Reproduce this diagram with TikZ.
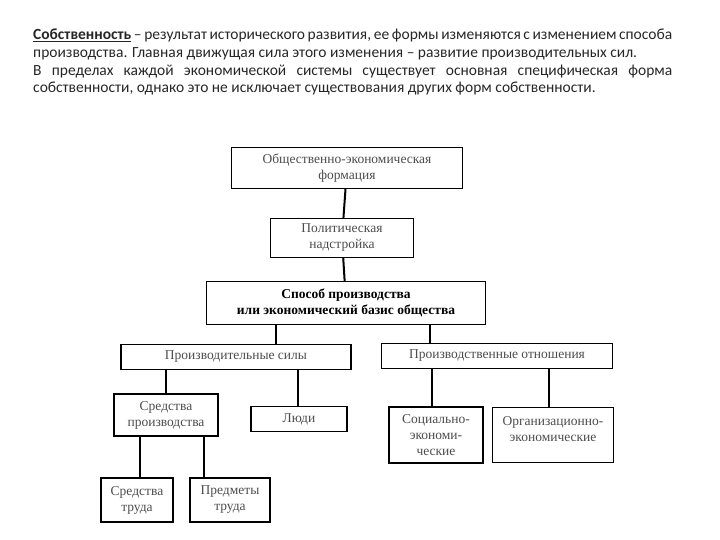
\documentclass[tikz,border=0pt]{standalone}
\usepackage{fontspec}
\setmainfont{Liberation Serif}
\newfontfamily\introfont{Carlito}
\usetikzlibrary{positioning}
\tikzset{
  blk/.style={rectangle, draw=black, line width=1.1pt, align=center, text=black!70,
    font=\fontsize{13.5}{16}\selectfont, inner sep=0pt},
  link/.style={draw, line width=2pt}
}
\begin{document}
\begin{tikzpicture}[x=1pt,y=-1pt]
  \useasboundingbox (0,0) rectangle (720,540);
  % text above
  \node [anchor=north west, inner sep=0pt, text width=639pt, align=justify,
    font=\introfont\fontsize{15.5}{17.6}\selectfont, text=black!85] (intro) at (33,29)
    {\underline{\textbf{Собственность}} – результат исторического развития, ее формы изменяются с изменением способа производства. Главная движущая сила этого изменения – развитие производительных сил.\par
     В пределах каждой экономической системы существует основная специфическая форма собственности, однако это не исключает существования других форм собственности.};
  % Place nodes
  \node [blk, minimum width=231pt, minimum height=41pt] (formation) at (347,168) {Общественно-экономическая\\формация};
  \node [blk, minimum width=143pt, minimum height=39pt] (politics) at (342,238) {Политическая\\надстройка};
  \node [blk, minimum width=279pt, minimum height=43pt, font=\bfseries\fontsize{13.5}{16}\selectfont, text=black] (basis) at (346,303) {Способ производства\\или экономический базис общества};
  \node [blk, minimum width=230pt, minimum height=25pt] (forces) at (236,357) {Производительные силы};
  \node [blk, minimum width=231pt, minimum height=25pt] (relations) at (497,356) {Производственные отношения};
  \node [blk, minimum width=104pt, minimum height=42pt] (means) at (166,415) {Средства\\производства};
  \node [blk, minimum width=96pt, minimum height=25pt] (people) at (299,419) {Люди};
  \node [blk, minimum width=94pt, minimum height=56pt] (social) at (436,435) {Социально-\\экономи-\\ческие};
  \node [blk, minimum width=121pt, minimum height=55pt, anchor=north] (organiz) at (553,407) {\\[-4pt]Организационно-\\экономические\\~};
  \node [blk, minimum width=72pt, minimum height=44pt] (tools) at (137,500) {Средства\\труда};
  \node [blk, minimum width=80pt, minimum height=44pt] (objects) at (230,500) {Предметы\\труда};
  % connectors
  \coordinate (cF) at (276,0);
  \coordinate (cR) at (430,0);
  \coordinate (cP) at (298,0);
  \coordinate (cS) at (432,0);
  \coordinate (cO) at (549,0);
  \coordinate (cT) at (140,0);
  \coordinate (cM) at (204,0);
  \path [link] (formation) -- (politics);
  \path [link] (politics) -- (basis);
  \path [link] (basis.south -| cF) -- (forces.north -| cF);
  \path [link] (basis.south -| cR) -- (relations.north -| cR);
  \path [link] (forces.south -| means) -- (means);
  \path [link] (forces.south -| cP) -- (people.north -| cP);
  \path [link] (relations.south -| cS) -- (social.north -| cS);
  \path [link] (relations.south -| cO) -- (organiz.north -| cO);
  \path [link] (means.south -| cT) -- (tools.north -| cT);
  \path [link] (means.south -| cM) -- (objects.north -| cM);
\end{tikzpicture}
\end{document}
